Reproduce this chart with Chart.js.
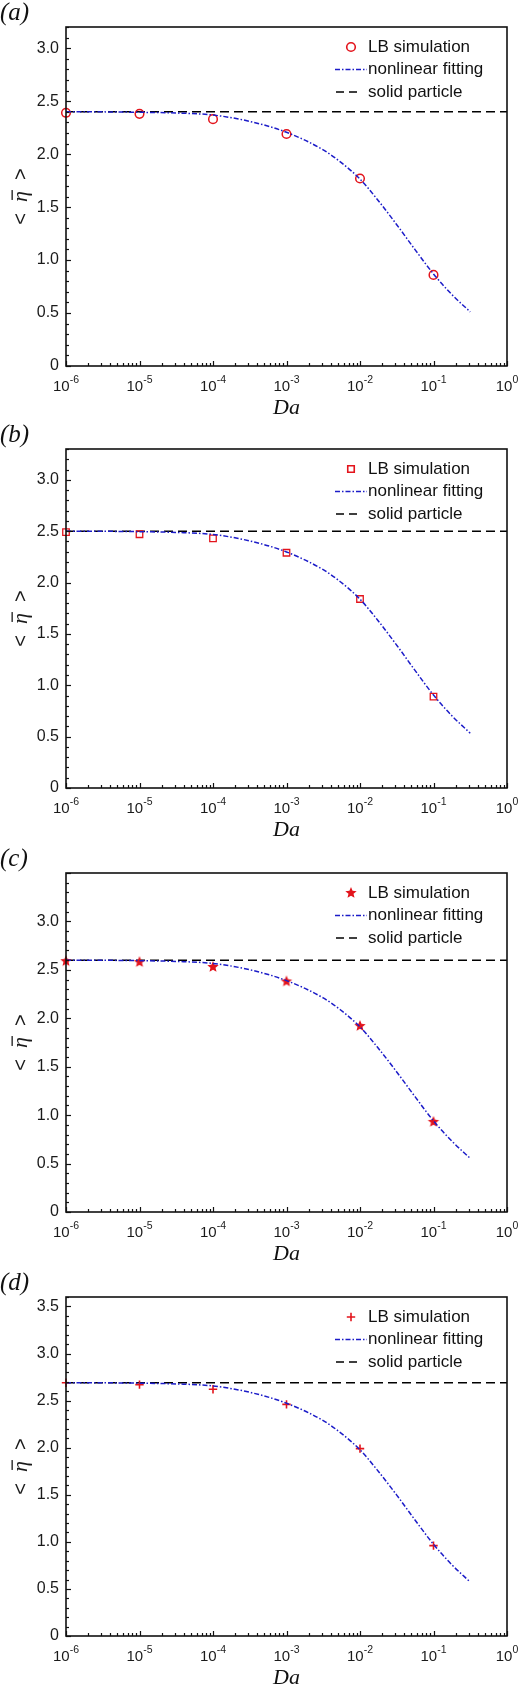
<!DOCTYPE html>
<html>

<head>
    <script src="https://cdn.jsdelivr.net/npm/chart.js@4.4.0/dist/chart.umd.min.js"></script>
    <style>
        html, body { margin: 0; padding: 0; width: 520px; height: 1689px; overflow: hidden; background: #fff; }
        .panel { position: absolute; left: 0; width: 520px; height: 422px; }
    </style>
</head>

<body>
    <div class="panel" style="top:0px"><canvas id="chartA"></canvas></div>
    <div class="panel" style="top:422px"><canvas id="chartB"></canvas></div>
    <div class="panel" style="top:846px"><canvas id="chartC"></canvas></div>
    <div class="panel" style="top:1270px"><canvas id="chartD"></canvas></div>
    <script>
        // Da values of the LB runs and of the points
        const daLB = [1e-6, 1e-5, 1e-4, 1e-3, 1e-2, 1e-1];
        const daFit = [1e-6, 3.16e-6, 1e-5, 3.16e-5, 1e-4, 3.16e-4, 1e-3, 3.16e-3, 5.4e-3, 1e-2, 1.7e-2, 3.16e-2, 5.6e-2, 1e-1, 1.78e-1, 3.16e-1];
        const decades = [-6, -5, -4, -3, -2, -1, 0];

        // panel (a)
        const lbA = [2.39, 2.38, 2.33, 2.19, 1.77, 0.86];
        const fitA = [2.400, 2.399, 2.395, 2.388, 2.369, 2.309, 2.206, 2.040, 1.927, 1.764, 1.577, 1.334, 1.099, 0.869, 0.674, 0.511];
        const solidA = 2.40;
        // panel (b)
        const lbB = [2.49, 2.47, 2.43, 2.29, 1.84, 0.89];
        const fitB = [2.500, 2.499, 2.495, 2.488, 2.468, 2.405, 2.298, 2.125, 2.008, 1.838, 1.643, 1.390, 1.145, 0.905, 0.703, 0.533];
        const solidB = 2.50;
        // panel (c)
        const lbC = [2.59, 2.58, 2.53, 2.38, 1.92, 0.93];
        const fitC = [2.600, 2.599, 2.595, 2.587, 2.566, 2.501, 2.389, 2.210, 2.088, 1.911, 1.708, 1.446, 1.191, 0.941, 0.731, 0.554];
        const solidC = 2.60;
        // panel (d)
        const lbD = [2.69, 2.67, 2.62, 2.46, 1.99, 0.96];
        const fitD = [2.690, 2.689, 2.685, 2.677, 2.655, 2.588, 2.472, 2.287, 2.160, 1.977, 1.767, 1.496, 1.232, 0.974, 0.756, 0.573];
        const solidD = 2.69;

        const panelNames = ['(a)', '(b)', '(c)', '(d)'];
        const yMax = [3.2, 3.3, 3.5, 3.6];
        const yLabelMax = [3.0, 3.0, 3.0, 3.5];
        const legendLabels = ['LB simulation', 'nonlinear fitting', 'solid particle'];

        const RED = '#e3141c';
        const BLUE = '#1c1cc8';
        const SANS = "'Liberation Sans', Arial, sans-serif";
        const SERIF = "'Liberation Serif', 'Times New Roman', serif";
        const FIT_DASH = [5, 2, 1.5, 2];

        Chart.defaults.font.family = SANS;

        function makeStar(r, color) {
            const s = Math.ceil(r * 2 + 2);
            const c = document.createElement('canvas');
            c.width = s; c.height = s;
            const g = c.getContext('2d');
            g.fillStyle = color;
            g.beginPath();
            for (let i = 0; i < 10; i++) {
                const rr = i % 2 ? r * 0.44 : r;
                const ang = -Math.PI / 2 + i * Math.PI / 5;
                g.lineTo(s / 2 + rr * Math.cos(ang), s / 2 + rr * Math.sin(ang));
            }
            g.closePath();
            g.fill();
            return c;
        }

        const markers = [
            { pointStyle: 'circle', radius: 4.3, borderWidth: 1.5, fill: 'rgba(0,0,0,0)' },
            { pointStyle: 'rect', radius: 4.6, borderWidth: 1.3, fill: 'rgba(0,0,0,0)' },
            { pointStyle: makeStar(6, RED), radius: 6, borderWidth: 0, fill: RED },
            { pointStyle: 'cross', radius: 4.2, borderWidth: 1.6, fill: RED }
        ];

        // frame, inward ticks, x labels with exponents, y title and the legend
        const framePlugin = {
            id: 'frame',
            afterDraw(chart, args, opts) {
                const ctx = chart.ctx;
                const a = chart.chartArea;
                const xs = chart.scales.x, ys = chart.scales.y;
                ctx.save();
                ctx.strokeStyle = '#111';
                ctx.lineWidth = 1.2;
                ctx.setLineDash([]);
                // x ticks (log, minor 2..9)
                for (let k = -6; k <= 0; k++) {
                    for (let m = 1; m <= 9; m++) {
                        const v = m * Math.pow(10, k);
                        if (v > 1.0000001) break;
                        const px = Math.round(xs.getPixelForValue(v)) + 0.5;
                        ctx.beginPath();
                        ctx.moveTo(px, a.bottom);
                        ctx.lineTo(px, a.bottom - (m === 1 ? 5 : 3));
                        ctx.stroke();
                    }
                }
                // y ticks every 0.1
                const n = Math.round(ys.max * 10);
                for (let i = 0; i <= n; i++) {
                    const py = Math.round(ys.getPixelForValue(i / 10)) + 0.5;
                    ctx.beginPath();
                    ctx.moveTo(a.left, py);
                    ctx.lineTo(a.left + (i % 5 === 0 ? 5 : 3), py);
                    ctx.stroke();
                }
                // frame
                ctx.lineWidth = 1.6;
                ctx.strokeRect(a.left, a.top, a.right - a.left, a.bottom - a.top);

                // x tick labels 10^k
                ctx.fillStyle = '#1a1a1a';
                ctx.textBaseline = 'alphabetic';
                decades.forEach(k => {
                    const px = xs.getPixelForValue(Math.pow(10, k));
                    ctx.font = '15px ' + SANS;
                    const wb = ctx.measureText('10').width;
                    ctx.font = '10.5px ' + SANS;
                    const ex = k === 0 ? '0' : '-' + Math.abs(k);
                    const we = ctx.measureText(ex).width;
                    const x0 = px - (wb + we) / 2;
                    ctx.textAlign = 'left';
                    ctx.font = '15px ' + SANS;
                    ctx.fillText('10', x0, a.bottom + 25);
                    ctx.font = '10.5px ' + SANS;
                    ctx.fillText(ex, x0 + wb, a.bottom + 17);
                });

                // y axis title  < eta-bar >
                ctx.save();
                ctx.translate(21, (a.top + a.bottom) / 2);
                ctx.rotate(-Math.PI / 2);
                ctx.textBaseline = 'middle';
                ctx.textAlign = 'left';
                const parts = [['<', '20px ' + SANS], ['  ', '20px ' + SANS], ['\u03b7', 'italic 22px ' + SERIF], ['  ', '20px ' + SANS], ['>', '20px ' + SANS]];
                let tw = 0;
                parts.forEach(p => { ctx.font = p[1]; tw += ctx.measureText(p[0]).width; });
                let cx = -tw / 2;
                parts.forEach((p, i) => {
                    ctx.font = p[1];
                    const w = ctx.measureText(p[0]).width;
                    ctx.fillText(p[0], cx, 0);
                    if (i === 2) {
                        // overbar of eta
                        ctx.fillRect(cx + 2, -9.5, w - 1, 1.3);
                    }
                    cx += w;
                });
                ctx.restore();

                // legend, inside top right
                const mk = opts.marker;
                const rows = [a.top + 20, a.top + 42.5, a.top + 65];
                const lx0 = a.right - 172, lx1 = a.right - 140, tx = a.right - 139;
                ctx.fillStyle = RED;
                ctx.strokeStyle = RED;
                ctx.save();
                ctx.fillStyle = mk.fill;
                Chart.helpers.drawPoint(ctx, { pointStyle: mk.pointStyle, radius: mk.radius, borderWidth: mk.borderWidth, rotation: 0 }, (lx0 + lx1) / 2, rows[0]);
                ctx.restore();
                ctx.lineWidth = 1.5;
                ctx.strokeStyle = BLUE;
                ctx.setLineDash(FIT_DASH);
                ctx.beginPath(); ctx.moveTo(lx0, rows[1]); ctx.lineTo(lx1, rows[1]); ctx.stroke();
                ctx.strokeStyle = '#000';
                ctx.setLineDash([8, 5]);
                ctx.beginPath(); ctx.moveTo(lx0 + 1, rows[2]); ctx.lineTo(lx1 - 5, rows[2]); ctx.stroke();
                ctx.setLineDash([]);
                ctx.fillStyle = '#111';
                ctx.font = '17px ' + SANS;
                ctx.textAlign = 'left';
                ctx.textBaseline = 'middle';
                legendLabels.forEach((t, i) => ctx.fillText(t, tx, rows[i]));
                ctx.restore();
            }
        };

        function makePanel(id, idx, lb, fit, solid) {
            const mk = markers[idx];
            new Chart(document.getElementById(id), {
                type: 'line',
                data: {
                    datasets: [{
                        label: legendLabels[1],
                        data: daFit.map((d, i) => ({ x: d, y: fit[i] })),
                        borderColor: BLUE,
                        borderWidth: 1.5,
                        borderDash: FIT_DASH,
                        pointRadius: 0,
                        cubicInterpolationMode: 'monotone',
                        fill: false
                    }, {
                        label: legendLabels[0],
                        data: daLB.map((d, i) => ({ x: d, y: lb[i] })),
                        showLine: false,
                        pointStyle: mk.pointStyle,
                        pointRadius: mk.radius,
                        pointBorderWidth: mk.borderWidth,
                        pointBorderColor: RED,
                        pointBackgroundColor: mk.fill,
                        clip: false
                    }, {
                        label: legendLabels[2],
                        data: [{ x: 1e-6, y: solid }, { x: 1, y: solid }],
                        borderColor: '#000',
                        borderWidth: 1.5,
                        borderDash: [9, 5],
                        pointRadius: 0,
                        fill: false
                    }]
                },
                options: {
                    responsive: true,
                    maintainAspectRatio: false,
                    animation: false,
                    events: [],
                    layout: { padding: { left: 0, right: 13, top: 0, bottom: 0 } },
                    plugins: {
                        legend: { display: false },
                        tooltip: { enabled: false },
                        title: {
                            display: true,
                            text: panelNames[idx],
                            align: 'start',
                            color: '#111',
                            font: { family: SERIF, style: 'italic', size: 25, lineHeight: 1.05, weight: 'normal' },
                            padding: { top: 0, bottom: 0.75 }
                        },
                        frame: { marker: mk }
                    },
                    scales: {
                        x: {
                            type: 'logarithmic',
                            min: 1e-6,
                            max: 1,
                            grid: { display: false, drawTicks: false },
                            border: { display: false },
                            ticks: { display: false },
                            title: {
                                display: true,
                                text: 'Da',
                                color: '#111',
                                font: { family: SERIF, style: 'italic', size: 22 },
                                padding: { top: 0, bottom: 1 }
                            },
                            afterFit(s) { s.height = 56; }
                        },
                        y: {
                            min: 0,
                            max: yMax[idx],
                            grid: { display: false, drawTicks: false },
                            border: { display: false },
                            ticks: {
                                stepSize: 0.5,
                                includeBounds: false,
                                padding: 7,
                                color: '#1a1a1a',
                                font: { size: 16 },
                                callback: v => (v > yLabelMax[idx] + 1e-6 ? '' : (v === 0 ? '0' : v.toFixed(1)))
                            },
                            afterFit(s) { s.width = 66; }
                        }
                    }
                },
                plugins: [framePlugin]
            });
        }

        makePanel('chartA', 0, lbA, fitA, solidA);
        makePanel('chartB', 1, lbB, fitB, solidB);
        makePanel('chartC', 2, lbC, fitC, solidC);
        makePanel('chartD', 3, lbD, fitD, solidD);
    </script>
</body>

</html>
